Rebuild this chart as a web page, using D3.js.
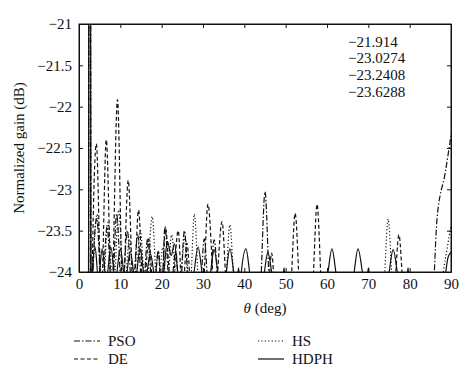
<!DOCTYPE html>
<html>
<head>
<meta charset="utf-8">
<script src="https://cdn.jsdelivr.net/npm/d3@7"></script>
<style>
  html, body { margin: 0; padding: 0; background: #fff; }
  svg { display: block; }
  text { font-family: "Liberation Serif", "DejaVu Serif", serif; fill: #111; }
</style>
</head>
<body>
<svg id="chart" width="474" height="386"></svg>
<script>
// ---------- data ----------
const thetaTicks = [0, 10, 20, 30, 40, 50, 60, 70, 80, 90];
const gainTicks = [-24, -23.5, -23, -22.5, -22, -21.5, -21];
const seriesNames = ["PSO", "DE", "HS", "HDPH"];
const maxLabels = ["−21.914", "−23.0274", "−23.2408", "−23.6288"];

// [theta (deg), normalized gain (dB)]; nulls fall just below the -24 dB floor
const psoPoints = [
  [2.3,-25],[2.6,-10],[2.9,-25],[3.2,-24.3],[4.3,-23.35],[5.5,-24.3],[6.8,-23.45],[8.0,-24.3],[9.1,-23.3],[10.4,-24.3],
  [11.7,-23.5],[12.9,-24.3],[14.2,-23.55],[15.4,-24.3],[16.6,-23.6],[17.9,-24.3],[19.2,-23.75],[20.0,-24.3],
  [20.8,-23.45],[22.0,-24.3],[23.4,-23.75],[24.4,-24.3],[25.5,-23.5],[26.7,-24.3],
  [29.2,-24.3],[30.3,-23.6],[31.5,-24.3],[32.7,-23.61],[34.0,-24.3],
  [43.7,-24.3],[45.0,-23.03],[46.3,-24.3],
  [85.3,-24.5],[86.6,-23.37],[88.6,-22.8],[90,-22.35]
];
const dePoints = [
  [2.3,-25],[2.6,-10],[2.9,-25],[3.1,-24.3],[4.2,-22.45],[5.4,-24.3],[6.6,-22.40],[7.9,-24.3],[9.3,-21.914],[10.6,-24.3],
  [11.9,-22.89],[13.2,-24.3],[14.4,-23.25],[15.6,-24.3],[16.9,-23.6],[18.1,-24.3],[19.2,-23.75],[20.0,-24.3],
  [20.9,-23.47],[22.4,-24.3],[24.0,-23.5],[25.0,-24.3],[26.1,-23.65],[27.3,-24.3],
  [29.9,-24.3],[31.2,-23.18],[32.9,-24.3],[34.6,-23.39],[35.9,-24.3],
  [45.6,-24.3],[46.6,-23.77],[47.6,-24.3],
  [51.0,-24.3],[52.3,-23.29],[53.6,-24.3],
  [56.3,-24.3],[57.6,-23.18],[58.9,-24.3],
  [76.1,-24.3],[77.4,-23.55],[78.7,-24.3],[90,-24.3]
];
const hsPoints = [
  [2.3,-25],[2.6,-10],[2.9,-25],[3.2,-24.3],[4.4,-23.3],[5.7,-24.3],[7.0,-23.4],[8.3,-24.3],[9.6,-23.25],[10.9,-24.3],
  [12.2,-23.6],[13.5,-24.3],[14.8,-23.5],[16.2,-24.3],[17.7,-23.33],[19.0,-24.3],[20.3,-23.7],[21.3,-24.3],
  [22.4,-23.55],[23.9,-24.3],[25.7,-23.6],[26.8,-24.3],[27.9,-23.3],[29.2,-24.3],
  [35.2,-24.3],[36.5,-23.43],[37.8,-24.3],
  [73.5,-24.3],[74.8,-23.36],[76.1,-24.3],
  [86.9,-24.3],[88.6,-23.85],[90,-23.43]
];
const hdphPoints = [
  [2.3,-25],[2.6,-10],[2.9,-25],[3.1,-24.1],[3.9,-23.7],[4.7,-24.1],[5.6,-23.72],[6.6,-24.1],[7.7,-23.7],[8.8,-24.1],
  [10.0,-23.72],[11.2,-24.1],[12.4,-23.75],[13.6,-24.1],[14.8,-23.72],[16.0,-24.1],[17.3,-23.78],[18.5,-24.1],
  [20.2,-24.1],[21.4,-23.63],[22.3,-23.8],[23.1,-23.66],[24.2,-24.1],
  [27.4,-24.1],[28.8,-23.70],[30.2,-24.1],
  [31.4,-24.1],[32.7,-23.73],[34.0,-24.1],
  [35.2,-24.1],[36.5,-23.72],[37.7,-24.1],
  [38.1,-24.2],[38.6,-23.95],[39.1,-24.2],
  [39.1,-24.1],[40.4,-23.72],[41.7,-24.1],
  [44.4,-24.1],[45.7,-23.76],[47.0,-24.1],
  [49.1,-24.2],[49.6,-23.95],[50.1,-24.2],
  [59.8,-24.1],[61.2,-23.72],[62.6,-24.1],
  [66.1,-24.1],[67.5,-23.72],[68.9,-24.1],
  [69.5,-24.2],[70.0,-23.95],[70.5,-24.2],
  [74.6,-24.1],[76.0,-23.73],[77.4,-24.1],
  [79.1,-24.2],[79.6,-23.95],[80.1,-24.2],
  [88.3,-24.1],[89.3,-23.82],[90,-23.76]
];

// ---------- layout ----------
const svg = d3.select("#chart");
const L = 79, R = 451, T = 24, B = 272;
const x = d3.scaleLinear().domain([0, 90]).range([L, R]);
const y = d3.scaleLinear().domain([-24, -21]).range([B, T]);

const styles = {
  PSO:  { data: psoPoints,  dash: "6,2,1.5,2" },
  DE:   { data: dePoints,   dash: "4,2.5" },
  HS:   { data: hsPoints,   dash: "1.2,2.2" },
  HDPH: { data: hdphPoints, dash: null }
};

svg.append("defs").append("clipPath").attr("id", "clip")
  .append("rect").attr("x", L).attr("y", T).attr("width", R - L).attr("height", B - T);

const line = d3.line().x(d => x(d[0])).y(d => y(d[1])).curve(d3.curveMonotoneX);

const g = svg.append("g").attr("clip-path", "url(#clip)");
seriesNames.forEach(name => {
  const s = styles[name];
  g.append("path").datum(s.data)
    .attr("d", line)
    .attr("fill", "none")
    .attr("stroke", "#111")
    .attr("stroke-width", 1.2)
    .attr("stroke-dasharray", s.dash);
});

// axes
const fmt = d3.format("");
const axB = svg.append("g").attr("transform", `translate(0,${B})`)
  .call(d3.axisBottom(x).tickValues(thetaTicks).tickSizeInner(-4).tickSizeOuter(0).tickPadding(6).tickFormat(fmt));
const axT = svg.append("g").attr("transform", `translate(0,${T})`)
  .call(d3.axisTop(x).tickValues(thetaTicks).tickSizeInner(-4).tickSizeOuter(0).tickFormat(""));
const axL = svg.append("g").attr("transform", `translate(${L},0)`)
  .call(d3.axisLeft(y).tickValues(gainTicks).tickSizeInner(-4).tickSizeOuter(0).tickPadding(7).tickFormat(fmt));
const axR = svg.append("g").attr("transform", `translate(${R},0)`)
  .call(d3.axisRight(y).tickValues(gainTicks).tickSizeInner(-4).tickSizeOuter(0).tickFormat(""));
[axB, axT, axL, axR].forEach(a => {
  a.selectAll("path").attr("stroke", "#111").attr("stroke-width", 1);
  a.selectAll("line").attr("stroke", "#111");
  a.selectAll("text").attr("font-size", 15).attr("font-family", "Liberation Serif, serif").attr("fill", "#111");
});
svg.append("rect").attr("x", L).attr("y", T).attr("width", R - L).attr("height", B - T)
  .attr("fill", "none").attr("stroke", "#111").attr("stroke-width", 1);

// axis titles
svg.append("text").attr("transform", `translate(24,${(T + B) / 2}) rotate(-90)`)
  .attr("text-anchor", "middle").attr("font-size", 15).text("Normalized gain (dB)");
const xt = svg.append("text").attr("x", (L + R) / 2).attr("y", 313).attr("text-anchor", "middle").attr("font-size", 15);
xt.append("tspan").attr("font-style", "italic").text("θ");
xt.append("tspan").text(" (deg)");

// max value annotations
maxLabels.forEach((t, i) => {
  svg.append("text").attr("x", 348).attr("y", 46.5 + i * 16.8).attr("font-size", 15).text(t);
});

// legend
const legendPos = { PSO: [74, 341], HS: [258, 341], DE: [74, 359], HDPH: [258, 359] };
seriesNames.forEach(name => {
  const [lx, ly] = legendPos[name];
  svg.append("line").attr("x1", lx).attr("x2", lx + 26).attr("y1", ly).attr("y2", ly)
    .attr("stroke", "#111").attr("stroke-width", 1.2).attr("stroke-dasharray", styles[name].dash);
  svg.append("text").attr("x", lx + 34).attr("y", ly + 5).attr("font-size", 15).text(name);
});
</script>
</body>
</html>
